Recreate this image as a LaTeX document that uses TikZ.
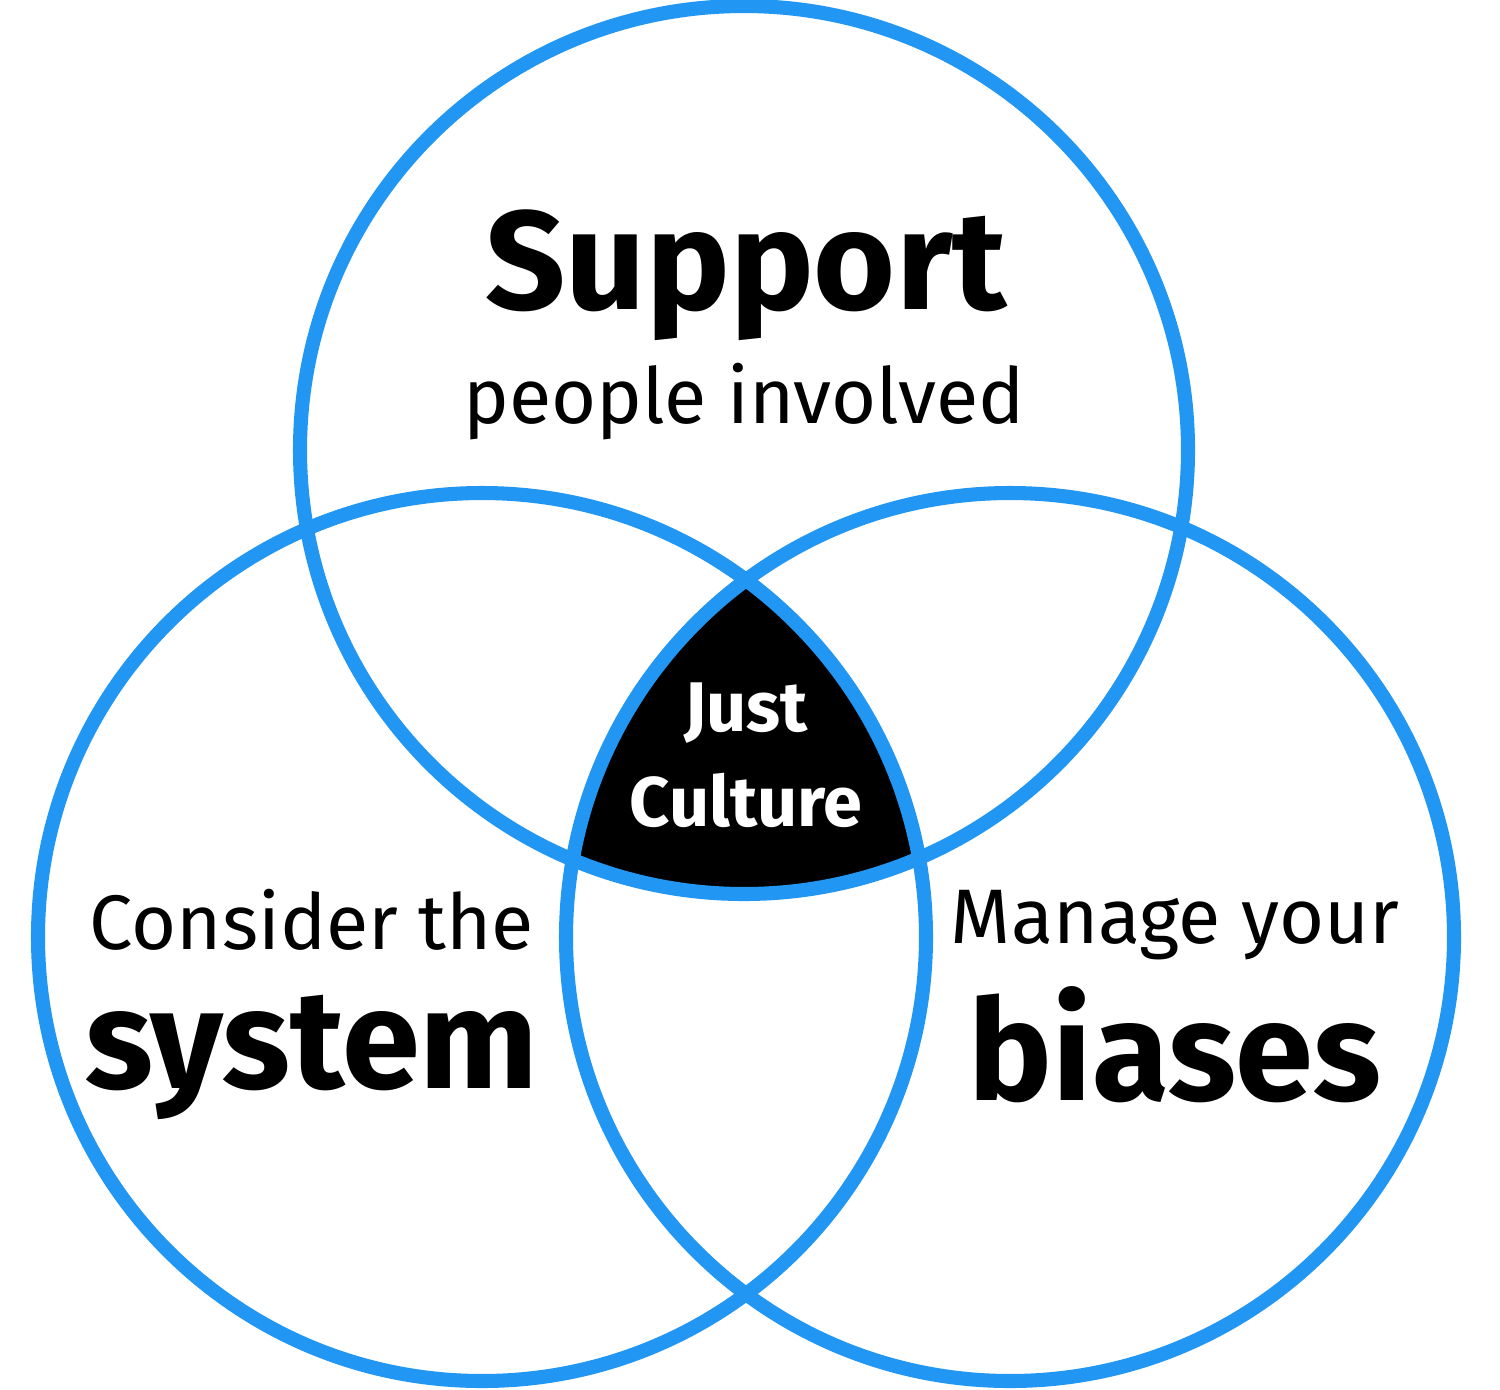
\documentclass[tikz,border=0pt]{standalone}
\usepackage{fontspec}
\setmainfont{Fira Sans}
\begin{document}
\begin{tikzpicture}[x=0.02cm,y=-0.02cm,
  big/.style={font=\fontsize{80}{90}\selectfont\bfseries},
  small/.style={font=\fontsize{44}{50}\selectfont}]
\definecolor{vblue}{RGB}{33,150,243}
\useasboundingbox (0,0) rectangle (1500,1389);
\fill[white] (0,0) rectangle (1500,1389);
\begin{scope}
\clip (744,450) circle (444);
\clip (482,937) circle (444);
\fill[black] (1010,937) circle (444);
\end{scope}
\draw[vblue, line width=8pt] (744,450) circle (444);
\draw[vblue, line width=8pt] (482,937) circle (444);
\draw[vblue, line width=8pt] (1010,937) circle (444);
\node[big] (sup) at (746,275) {Support};
\node[small] (pi) at (744,402) {people involved};
\node[small] (ct) at (312,920) {Consider the};
\node[big] (sys) at (312,1057) {system};
\node[small] (my) at (1175,925) {Manage your};
\node[big] (bia) at (1175,1045) {biases};
\node[text=white, font=\fontsize{40}{54}\selectfont\bfseries, align=center] (jc) at (746,755) {Just\\Culture};
\end{tikzpicture}
\end{document}
